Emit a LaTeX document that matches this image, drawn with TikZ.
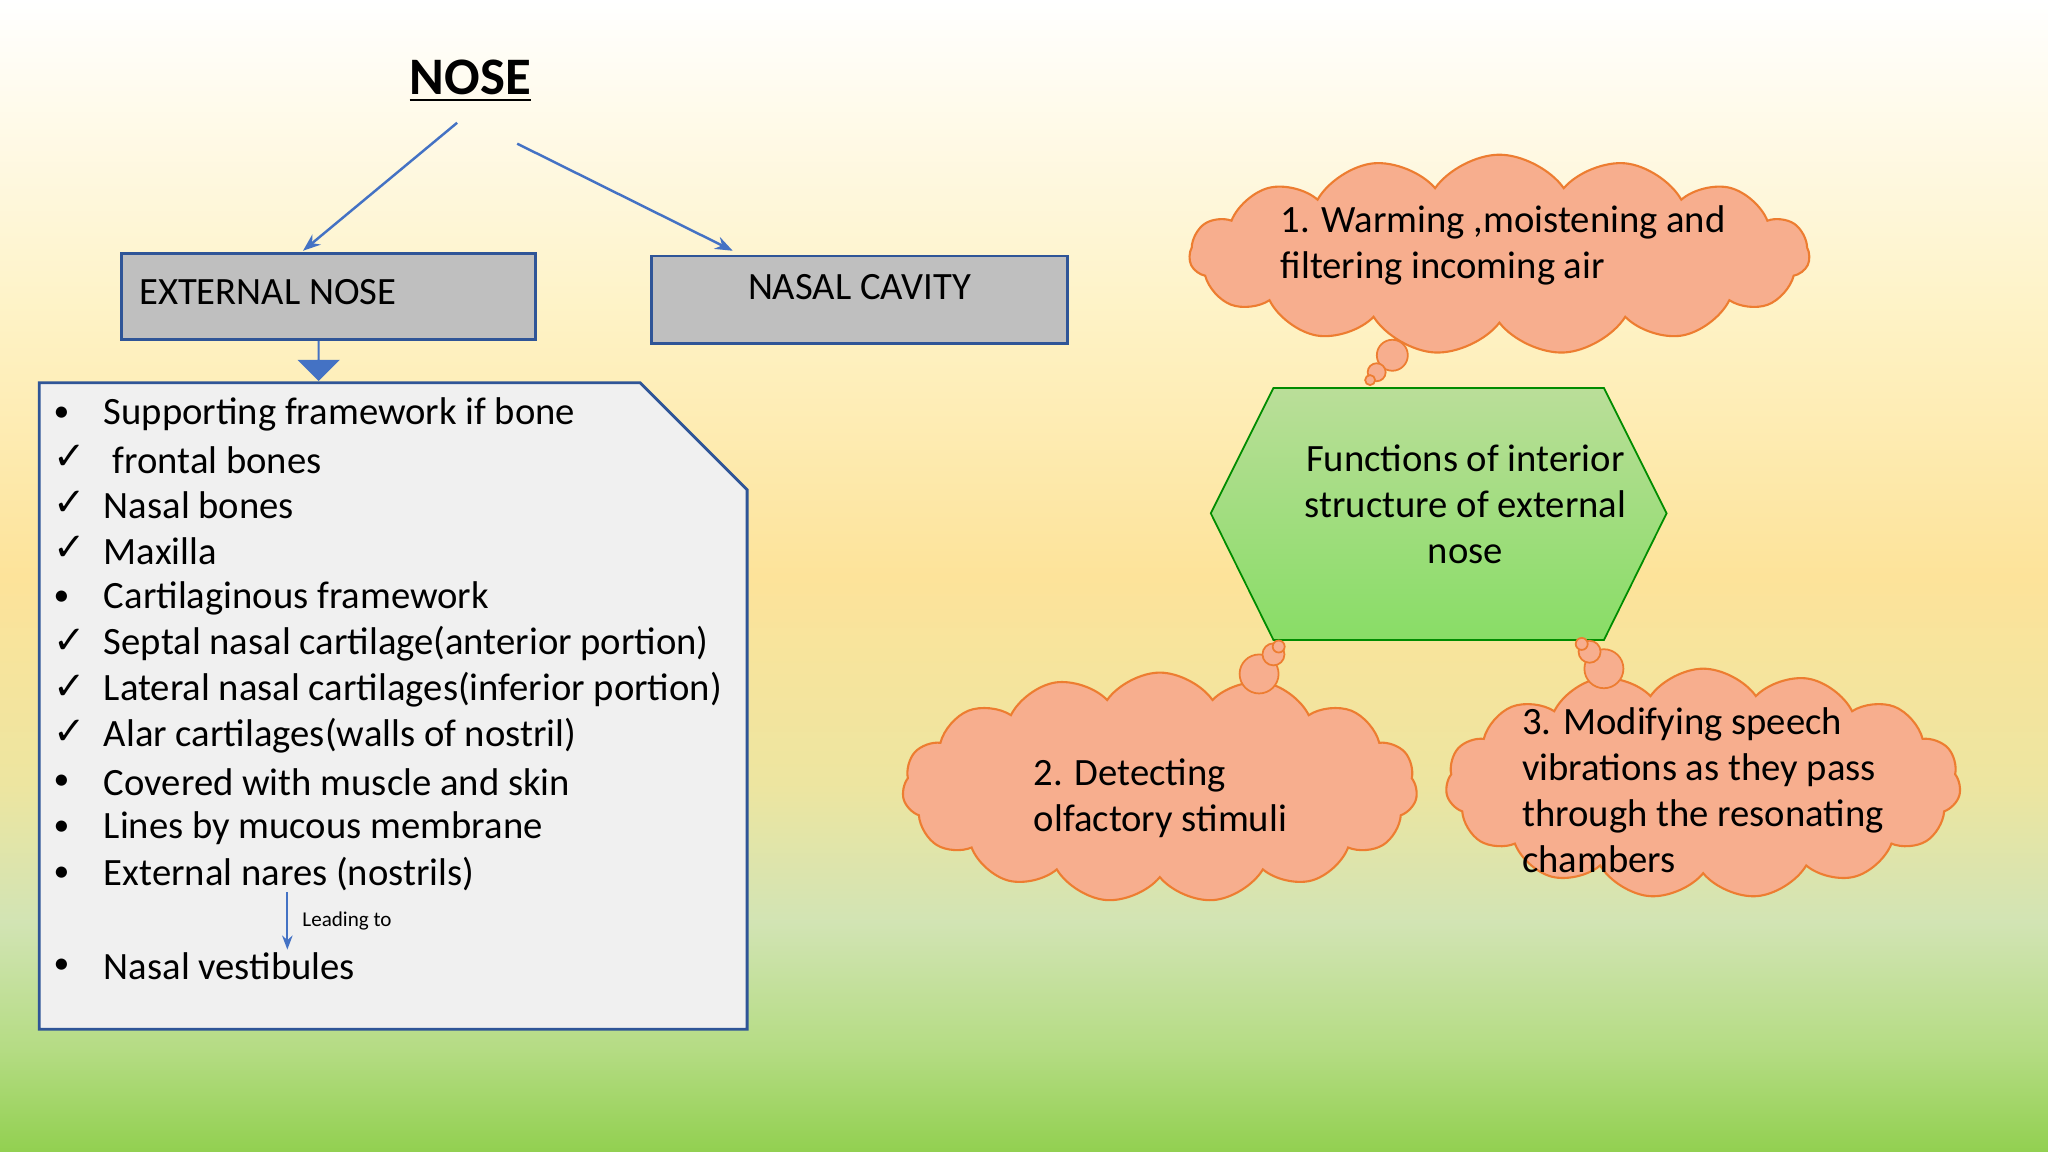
\documentclass[tikz,border=0pt]{standalone}
\usepackage{fontspec}
\setmainfont{Carlito}
\newfontfamily\djv{DejaVu Sans}
\usetikzlibrary{shapes.symbols,shapes.arrows,arrows.meta}
\definecolor{gA}{HTML}{92D050}
\definecolor{gB}{HTML}{B5DC84}
\definecolor{gC}{HTML}{D2E4B4}
\definecolor{gD}{HTML}{EDE5A0}
\definecolor{gE}{HTML}{FDE39A}
\definecolor{gF}{HTML}{FEF2C4}
\pgfdeclareverticalshading{bgshade}{100bp}{color(0bp)=(gA);color(25bp)=(gA);color(29.5bp)=(gB);color(35bp)=(gC);color(41bp)=(gD);color(50bp)=(gE);color(61bp)=(gF);color(75bp)=(white);color(100bp)=(white)}
\definecolor{cloudf}{HTML}{F7AE8E}
\definecolor{cloudd}{HTML}{ED7D31}
\definecolor{bl}{HTML}{2F5597}
\definecolor{ab}{HTML}{4472C4}
\tikzset{
 cl/.style={cloud, cloud puffs=15, cloud puff arc=110, aspect=2.4, fill=cloudf, draw=cloudd, line width=0.6pt, inner sep=0pt},
 bub/.style={circle, fill=cloudf, draw=cloudd, line width=0.5pt, inner sep=0pt},
 gbox/.style={draw=bl, fill=gray!50, line width=0.8pt},
 txt/.style={font=\fontsize{11}{13}\selectfont, align=left, inner sep=0pt},
 ar/.style={ab, line width=0.7pt, -{Stealth[length=5pt]}}
}
\begin{document}
\begin{tikzpicture}[x=0.01306cm,y=-0.01306cm]
\useasboundingbox (0,0) rectangle (1568,882);
\shade[shading=bgshade] (0,0) rectangle (1568,882);
\node[font=\fontsize{15}{17}\bfseries, inner sep=1pt] (nose) at (360,62) {\underline{NOSE}};
\draw[gbox] (93,194) rectangle (410,260);
\node[txt, anchor=west] (ext) at (106,224) {EXTERNAL NOSE};
\draw[gbox] (499,196) rectangle (817,263);
\node[txt] (cav) at (658,220) {NASAL CAVITY};
\coordinate (n1) at (350,94); \coordinate (n2) at (396,110);
\coordinate (e1) at (232,192); \coordinate (c1) at (561,192);
\draw[ar] (n1) -- (e1);
\draw[ar] (n2) -- (c1);
\node[single arrow, shape border rotate=270, fill=ab, single arrow head extend=4pt, inner sep=0pt, minimum width=12pt, minimum height=0.4cm] (ba) at (244,276) {};
\draw[draw=bl, fill=gray!12, line width=0.8pt] (30,293) -- (490,293) -- (572,375) -- (572,788) -- (30,788) -- cycle;
\foreach \y/\m/\t [count=\i] in {317/b/Supporting framework if bone, 352/c/\ frontal bones, 387/c/Nasal bones, 422/c/Maxilla, 458/b/Cartilaginous framework, 493/c/Septal nasal cartilage(anterior portion), 528/c/Lateral nasal cartilages(inferior portion), 563/c/Alar cartilages(walls of nostril), 599/b/Covered with muscle and skin, 634/b/Lines by mucous membrane, 669/b/External nares (nostrils), 740/b/Nasal vestibules}{
 \node[txt, anchor=west] (l\i) at (79,\y) {\t};
 \if\m b \node[font=\small, inner sep=0pt] (m\i) at (47,\y) {•};\else \node[txt] (m\i) at (53,\y-2) {\djv ✓};\fi
}
\coordinate (la) at (220,683); \coordinate (lb) at (220,727);
\draw[ab, line width=0.6pt, -{Stealth[length=4pt]}] (la) -- (lb);
\node[font=\fontsize{6}{7}\selectfont, anchor=west, inner sep=0pt] (lt) at (231,705) {Leading to};
% hexagon
\shade[top color=green!35!olive!40!white, bottom color=green!55!olive!60!white, draw=green!55!black, line width=0.5pt]
 (927,393) -- (975,297) -- (1228,297) -- (1276,393) -- (1228,490) -- (975,490) -- cycle;
\node[txt, align=center] (hx) at (1122,386) {Functions of interior\\structure of external\\nose};
% clouds
\node[cl, minimum width=6.2cm, minimum height=2.0cm] (c1) at (1148,195) {};
\node[txt, anchor=west] (t1) at (980,188) {1. Warming ,moistening and\\filtering incoming air};
\node[bub, minimum size=0.31cm] (b1a) at (1066,272) {};
\node[bub, minimum size=0.18cm] (b1b) at (1054,285) {};
\node[bub, minimum size=0.1cm] (b1c) at (1049,291) {};
\node[cl, minimum width=5.15cm, minimum height=2.3cm] (c2) at (888,603) {};
\node[txt, anchor=west] (t2) at (791,611) {2. Detecting\\olfactory stimuli};
\node[bub, minimum size=0.39cm] (b2a) at (964,516) {};
\node[bub, minimum size=0.22cm] (b2b) at (975,501) {};
\node[bub, minimum size=0.12cm] (b2c) at (979,495) {};
\node[cl, minimum width=5.15cm, minimum height=2.3cm] (c3) at (1304,600) {};
\node[txt, anchor=west] (t3) at (1165,605) {3. Modifying speech\\vibrations as they pass\\through the resonating\\chambers};
\node[bub, minimum size=0.39cm] (b3a) at (1228,512) {};
\node[bub, minimum size=0.22cm] (b3b) at (1217,499) {};
\node[bub, minimum size=0.12cm] (b3c) at (1211,493) {};
\end{tikzpicture}
\end{document}
